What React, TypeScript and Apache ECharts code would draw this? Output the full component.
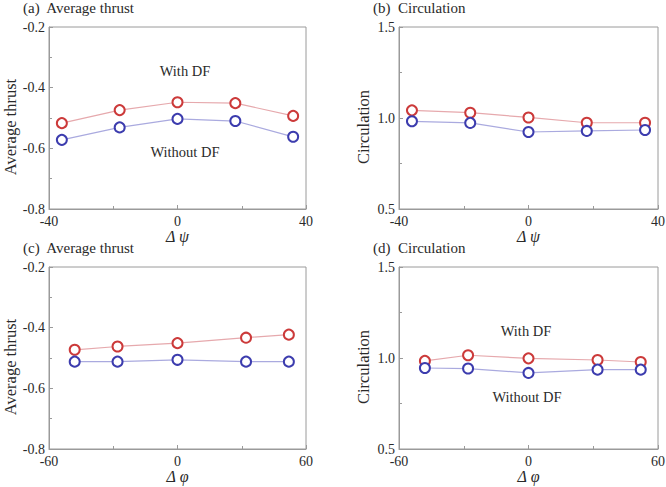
import React, { useEffect, useRef } from "react";
import * as echarts from "echarts";

// Sweep angles (deg) and measured quantities
const psiAngles = [-36, -18, 0, 18, 36];
const thrustPsiWithDF = [-0.517, -0.474, -0.448, -0.451, -0.493];
const thrustPsiWithoutDF = [-0.572, -0.531, -0.503, -0.51, -0.562];
const circPsiWithDF = [1.042, 1.029, 1.003, 0.974, 0.974];
const circPsiWithoutDF = [0.982, 0.973, 0.923, 0.929, 0.934];

const phiAngles = [-48, -28, 0, 32, 52];
const thrustPhiWithDF = [-0.473, -0.462, -0.451, -0.433, -0.423];
const thrustPhiWithoutDF = [-0.512, -0.512, -0.506, -0.512, -0.512];
const circPhiWithDF = [0.984, 1.015, 0.998, 0.989, 0.978];
const circPhiWithoutDF = [0.945, 0.942, 0.918, 0.936, 0.936];

const panelTitles = ["(a)  Average thrust", "(b)  Circulation", "(c)  Average thrust", "(d)  Circulation"];
const yNames = ["Average thrust", "Circulation", "Average thrust", "Circulation"];
const xNames = ["Δ ψ", "Δ ψ", "Δ φ", "Δ φ"];

const FONT = "Liberation Serif";
const RED = "#cc3a3a";
const RED_LINE = "#e6a9ad";
const BLUE = "#3c3cae";
const BLUE_LINE = "#aaaadf";
const FRAME = "#9a9a9a";
const TEXT = "#2a2a2a";

const grids = [
  { left: 49, top: 27, width: 257, height: 182 },
  { left: 399, top: 27, width: 259, height: 182 },
  { left: 49, top: 267, width: 257, height: 182 },
  { left: 399, top: 267, width: 259, height: 182 },
];

const pairs = (xs: number[], ys: number[]) => xs.map((x, i) => [x, ys[i]]);

export default function App() {
  const ref = useRef<HTMLDivElement>(null);

  useEffect(() => {
    if (!ref.current) return;
    const chart = echarts.init(ref.current, undefined, { renderer: "svg" });

    const xRanges = [
      { min: -40, max: 40, interval: 40 },
      { min: -40, max: 40, interval: 40 },
      { min: -60, max: 60, interval: 60 },
      { min: -60, max: 60, interval: 60 },
    ];
    const yRanges = [
      { min: -0.8, max: -0.2, interval: 0.2 },
      { min: 0.5, max: 1.5, interval: 0.5 },
      { min: -0.8, max: -0.2, interval: 0.2 },
      { min: 0.5, max: 1.5, interval: 0.5 },
    ];

    const xAxis = xRanges.map((r, i) => ({
      type: "value",
      gridIndex: i,
      ...r,
      name: xNames[i],
      nameLocation: "middle",
      nameGap: 18,
      nameTextStyle: { fontFamily: FONT, fontSize: 16, fontStyle: "italic", color: TEXT },
      axisLine: { show: true, onZero: false, lineStyle: { color: FRAME, width: 1 } },
      axisTick: { show: true, inside: true, length: 4, lineStyle: { color: FRAME } },
      minorTick: { show: true, splitNumber: 2, length: 3, lineStyle: { color: FRAME } },
      splitLine: { show: false },
      axisLabel: { fontFamily: FONT, fontSize: 14, color: TEXT, margin: 5 },
    }));

    const yAxis = yRanges.map((r, i) => ({
      type: "value",
      gridIndex: i,
      ...r,
      axisLine: { show: true, onZero: false, lineStyle: { color: FRAME, width: 1 } },
      axisTick: { show: true, inside: true, length: 4, lineStyle: { color: FRAME } },
      minorTick: { show: true, splitNumber: 2, length: 3, lineStyle: { color: FRAME } },
      splitLine: { show: false },
      axisLabel: {
        fontFamily: FONT,
        fontSize: 14,
        color: TEXT,
        margin: 4,
        formatter: (v: number) => v.toFixed(1),
      },
    }));

    const mk = (idx: number, xs: number[], ys: number[], c: string, lc: string, name: string) => ({
      type: "line",
      name,
      xAxisIndex: idx,
      yAxisIndex: idx,
      data: pairs(xs, ys),
      symbol: "emptyCircle",
      symbolSize: 10,
      itemStyle: { color: c, borderColor: c, borderWidth: 1.8 },
      lineStyle: { color: lc, width: 1.2 },
      z: 3,
    });

    const series = [
      mk(0, psiAngles, thrustPsiWithDF, RED, RED_LINE, "With DF"),
      mk(0, psiAngles, thrustPsiWithoutDF, BLUE, BLUE_LINE, "Without DF"),
      mk(1, psiAngles, circPsiWithDF, RED, RED_LINE, "With DF"),
      mk(1, psiAngles, circPsiWithoutDF, BLUE, BLUE_LINE, "Without DF"),
      mk(2, phiAngles, thrustPhiWithDF, RED, RED_LINE, "With DF"),
      mk(2, phiAngles, thrustPhiWithoutDF, BLUE, BLUE_LINE, "Without DF"),
      mk(3, phiAngles, circPhiWithDF, RED, RED_LINE, "With DF"),
      mk(3, phiAngles, circPhiWithoutDF, BLUE, BLUE_LINE, "Without DF"),
    ];

    const titlePos = [
      { left: 23, top: 0 },
      { left: 373, top: 0 },
      { left: 23, top: 240 },
      { left: 373, top: 240 },
    ];

    const yNamePos = [
      { x: 10, y: 127 },
      { x: 363, y: 127 },
      { x: 10, y: 367 },
      { x: 363, y: 367 },
    ];

    const annotations = [
      { text: "With DF", x: 185, y: 71 },
      { text: "Without DF", x: 185, y: 152 },
      { text: "With DF", x: 526, y: 331 },
      { text: "Without DF", x: 527, y: 397 },
    ];

    const graphic: any[] = [
      ...yNamePos.map((p, i) => ({
        type: "text",
        x: p.x,
        y: p.y,
        rotation: Math.PI / 2,
        style: {
          text: yNames[i],
          fontFamily: FONT,
          fontSize: 16.5,
          fill: TEXT,
          textAlign: "center",
          textVerticalAlign: "middle",
        },
      })),
      ...annotations.map((a) => ({
        type: "text",
        x: a.x,
        y: a.y,
        style: {
          text: a.text,
          fontFamily: FONT,
          fontSize: 14.5,
          fill: TEXT,
          textAlign: "center",
          textVerticalAlign: "middle",
        },
      })),
    ];

    chart.setOption({
      animation: false,
      backgroundColor: "#ffffff",
      title: panelTitles.map((t, i) => ({
        text: t,
        ...titlePos[i],
        padding: 0,
        textStyle: { fontFamily: FONT, fontSize: 15, fontWeight: "normal", color: TEXT },
      })),
      grid: grids.map((g) => ({
        ...g,
        containLabel: false,
        outerBoundsMode: "none",
        show: true,
        borderColor: FRAME,
        borderWidth: 1,
        backgroundColor: "transparent",
      })),
      xAxis,
      yAxis,
      series,
      graphic,
    });

    return () => chart.dispose();
  }, []);

  return (
    <div
      ref={ref}
      style={{ position: "fixed", left: 0, top: 0, width: 666, height: 487, background: "#fff" }}
    />
  );
}
